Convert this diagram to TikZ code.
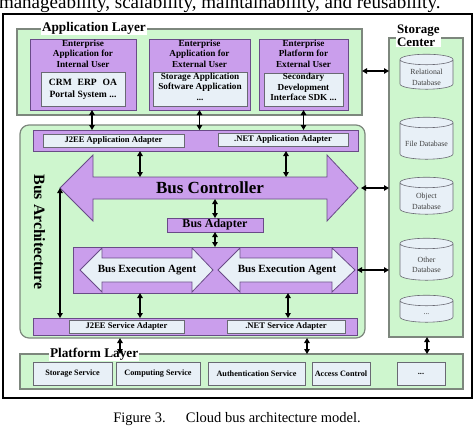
\documentclass[tikz,border=0pt]{standalone}
\usepackage{fontspec}
\setmainfont{Liberation Serif}
\usetikzlibrary{arrows.meta,shapes.geometric}
\definecolor{gfill}{RGB}{206,246,206}
\definecolor{gline}{RGB}{125,135,125}
\definecolor{pfill}{RGB}{202,158,236}
\definecolor{pline}{RGB}{105,75,135}
\definecolor{wfill}{RGB}{232,240,247}
\definecolor{wline}{RGB}{105,105,115}
\begin{document}
\begin{tikzpicture}[x=1pt,y=-1pt,
  every node/.style={inner sep=0pt,outer sep=0pt},
  greenbox/.style={draw=gline,line width=1.2pt,fill=gfill},
  purplebox/.style={draw=pline,line width=0.8pt,fill=pfill},
  whitebox/.style={draw=wline,line width=0.6pt,fill=wfill},
  bigarrow/.style={draw=pline,line width=0.8pt,fill=pfill},
  agentarrow/.style={draw=pline,line width=0.8pt,fill=wfill},
  cyl/.style={cylinder,shape border rotate=90,draw=wline,line width=0.6pt,fill=wfill,minimum width=53pt,shape aspect=0.35},
  cyltext/.style={font=\fontsize{7.8}{10.5}\selectfont,text=black!75,align=center},
  ttl/.style={font=\fontsize{9.2}{10.5}\selectfont\bfseries,align=center},
  small/.style={font=\fontsize{8.6}{10}\selectfont\bfseries,align=center},
  plat/.style={font=\fontsize{8.2}{9}\selectfont\bfseries,align=center},
  layer/.style={font=\fontsize{13.3}{14}\selectfont\bfseries,fill=white,inner xsep=1pt,inner ysep=0.5pt},
  conn/.style={line width=1.4pt,{Triangle[length=5pt,width=5.5pt]}-{Triangle[length=5pt,width=5.5pt]}}
]
\useasboundingbox (0,0) rectangle (474,428);

% top text (cut by the page) and caption
\node[font=\fontsize{19}{21}\selectfont,anchor=base west] (toptext) at (-1,8.5) {manageability, scalability, maintainability, and reusability.};
\node[font=\fontsize{14.5}{16}\selectfont] (caption) at (237,419) {Figure 3.\hspace{1.4em}Cloud bus architecture model.};

% frame
\draw[line width=1.6pt] (3,14) rectangle (472,398);

% application layer
\node[greenbox,minimum width=345pt,minimum height=86pt] (applayer) at (189.5,72) {};
\node[layer,anchor=west] (applabel) at (41,28.5) {Application Layer};
\node[purplebox,minimum width=106pt,minimum height=71pt] (app1) at (83,74.5) {};
\node[whitebox,minimum width=84pt,minimum height=34pt] (app1in) at (83,89) {};
\node[ttl,anchor=north] (app1t) at (83,40) {Enterprise\\Application for\\Internal User};
\node[font=\fontsize{9.6}{11.5}\selectfont\bfseries,align=center] (app1x) at (83,89.5) {CRM\hspace{0.6em}ERP\hspace{0.6em}OA\\Portal System ...};

\node[purplebox,minimum width=101pt,minimum height=71pt] (app2) at (199.5,74.5) {};
\node[whitebox,minimum width=94pt,minimum height=34pt] (app2in) at (200,89) {};
\node[ttl,anchor=north] (app2t) at (199.5,40) {Enterprise\\Application for\\External User};
\node[ttl,anchor=north] (app2x) at (200,73) {Storage Application\\Software Application\\...};

\node[purplebox,minimum width=89pt,minimum height=71pt] (app3) at (303.5,74.5) {};
\node[whitebox,minimum width=79pt,minimum height=33pt] (app3in) at (303.5,89.5) {};
\node[ttl,anchor=north] (app3t) at (303.5,40) {Enterprise\\Platform for\\External User};
\node[ttl,anchor=north] (app3x) at (303.5,73.5) {Secondary\\Development\\Interface SDK ...};

% storage center
\node[greenbox,minimum width=74pt,minimum height=299pt] (storage) at (426,187.5) {};
\node[layer,align=left,font=\fontsize{13}{13.5}\selectfont\bfseries,anchor=north west] (stlabel) at (396,24) {Storage\\Center};
\node[cyl,minimum height=35pt] (c1) at (426.5,74.5) {\hspace*{30pt}};
\node[cyl,minimum height=42pt] (c2) at (426.5,141) {\hspace*{30pt}};
\node[cyl,minimum height=37pt] (c3) at (426.5,198.5) {\hspace*{30pt}};
\node[cyl,minimum height=42pt] (c4) at (426.5,262) {\hspace*{30pt}};
\node[cyl,minimum height=27pt] (c5) at (426.5,311.5) {\hspace*{30pt}};
\node[cyltext] (c1t) at ([yshift=-3pt]c1.center) {Relational\\Database};
\node[cyltext] (c2t) at ([yshift=-3pt]c2.center) {File Database};
\node[cyltext] (c3t) at ([yshift=-3pt]c3.center) {Object\\Database};
\node[cyltext] (c4t) at ([yshift=-3pt]c4.center) {Other\\Database};
\node[cyltext] (c5t) at ([yshift=-3pt]c5.center) {...};

% bus architecture
\node[greenbox,rounded corners=9pt,minimum width=345pt,minimum height=213pt] (busarch) at (192.5,231.5) {};
\node[font=\fontsize{15.8}{17}\selectfont\bfseries,rotate=-90] (balabel) at (39.5,232) {Bus Architecture};

\node[purplebox,minimum width=325pt,minimum height=21pt] (topbar) at (195.5,140.5) {};
\node[whitebox,minimum width=141pt,minimum height=13pt] (j2eeapp) at (113.5,140.5) {};
\node[small] at (j2eeapp) {J2EE Application Adapter};
\node[whitebox,minimum width=130pt,minimum height=13pt] (netapp) at (283,139.5) {};
\node[small] at (netapp) {.NET Application Adapter};

\draw[bigarrow] (60,188) -- (93,155) -- (93,177) -- (327,177) -- (327,155) -- (358,188)
  -- (327,221) -- (327,199) -- (93,199) -- (93,221) -- cycle;
\coordinate (bcL) at (60,188);
\coordinate (bcR) at (361,188);
\node[minimum width=234pt,minimum height=22pt,font=\fontsize{17}{19}\selectfont\bfseries] (busctrl) at (210,188) {Bus Controller};

\node[purplebox,minimum width=96pt,minimum height=14pt,font=\fontsize{12}{13}\selectfont\bfseries] (busadapter) at (215,225) {Bus Adapter};

\node[purplebox,minimum width=284pt,minimum height=46pt] (execbox) at (215,270) {};
\draw[agentarrow] (80,270) -- (102,248) -- (102,258) -- (192,258) -- (192,248) -- (213,270)
  -- (192,292) -- (192,282) -- (102,282) -- (102,292) -- cycle;
\draw[agentarrow] (218,270) -- (240,248) -- (240,258) -- (332,258) -- (332,248) -- (355,270)
  -- (332,292) -- (332,282) -- (240,282) -- (240,292) -- cycle;
\node[font=\fontsize{11}{12}\selectfont\bfseries] (agent1) at (147,270) {Bus Execution Agent};
\node[font=\fontsize{11}{12}\selectfont\bfseries] (agent2) at (287,270) {Bus Execution Agent};

\node[purplebox,minimum width=324pt,minimum height=17pt] (botbar) at (195,326.5) {};
\node[whitebox,minimum width=115pt,minimum height=13pt] (j2eesvc) at (126.5,326.5) {};
\node[small] at (j2eesvc) {J2EE Service Adapter};
\node[whitebox,minimum width=118pt,minimum height=13pt] (netsvc) at (286,326.5) {};
\node[small] at (netsvc) {.NET Service Adapter};

% platform layer
\node[greenbox,minimum width=443pt,minimum height=35pt] (platform) at (241.5,371.5) {};
\node[layer,anchor=west] (pllabel) at (49,354) {Platform Layer};
\node[whitebox,plat,minimum width=79pt,minimum height=23pt] (p1) at (72.5,373.5) {Storage Service};
\node[whitebox,plat,minimum width=84pt,minimum height=23pt] (p2) at (158,373.5) {Computing Service};
\node[whitebox,plat,minimum width=97pt,minimum height=23pt] (p3) at (256.5,373.5) {Authentication Service};
\node[whitebox,plat,minimum width=58pt,minimum height=23pt] (p4) at (341,373.5) {Access Control};
\node[whitebox,plat,minimum width=48pt,minimum height=23pt] (p5) at (421,373.5) {...};

% connectors
\draw[conn] ([xshift=9pt]app1.south) -- ([xshift=9pt]app1.south |- topbar.north);
\draw[conn] (app2.south) -- (app2.south |- topbar.north);
\draw[conn] (app3.south) -- (app3.south |- topbar.north);
\draw[conn] ([xshift=26.5pt]j2eeapp.south |- topbar.south) -- ([xshift=26.5pt]j2eeapp.south |- busctrl.north);
\draw[conn] ([xshift=3pt]netapp.south |- topbar.south) -- ([xshift=3pt]netapp.south |- busctrl.north);
\draw[conn] (busadapter.north |- busctrl.south) -- (busadapter.north);
\draw[conn] (busadapter.south) -- (busadapter.south |- execbox.north);
\draw[conn] ([xshift=-7pt]agent1.center |- execbox.south) -- ([xshift=-7pt]agent1.center |- botbar.north);
\draw[conn] ([xshift=1pt]agent2.center |- execbox.south) -- ([xshift=1pt]agent2.center |- botbar.north);
\draw[conn] (bcL) -- (bcL |- botbar.north);
\draw[conn] ([yshift=1pt]applayer.east) -- ([yshift=1pt]applayer.east -| storage.west);
\draw[conn] (bcR) -- (bcR -| storage.west);
\draw[conn] (execbox.east) -- (execbox.east -| storage.west);
\draw[conn] ([xshift=-72.5pt]busarch.south) -- ([xshift=-72.5pt]busarch.south |- platform.north);
\draw[conn] ([xshift=114.5pt]busarch.south) -- ([xshift=114.5pt]busarch.south |- platform.north);
\draw[conn] ([xshift=1pt]storage.south) -- ([xshift=1pt]storage.south |- platform.north);
\end{tikzpicture}
\end{document}
